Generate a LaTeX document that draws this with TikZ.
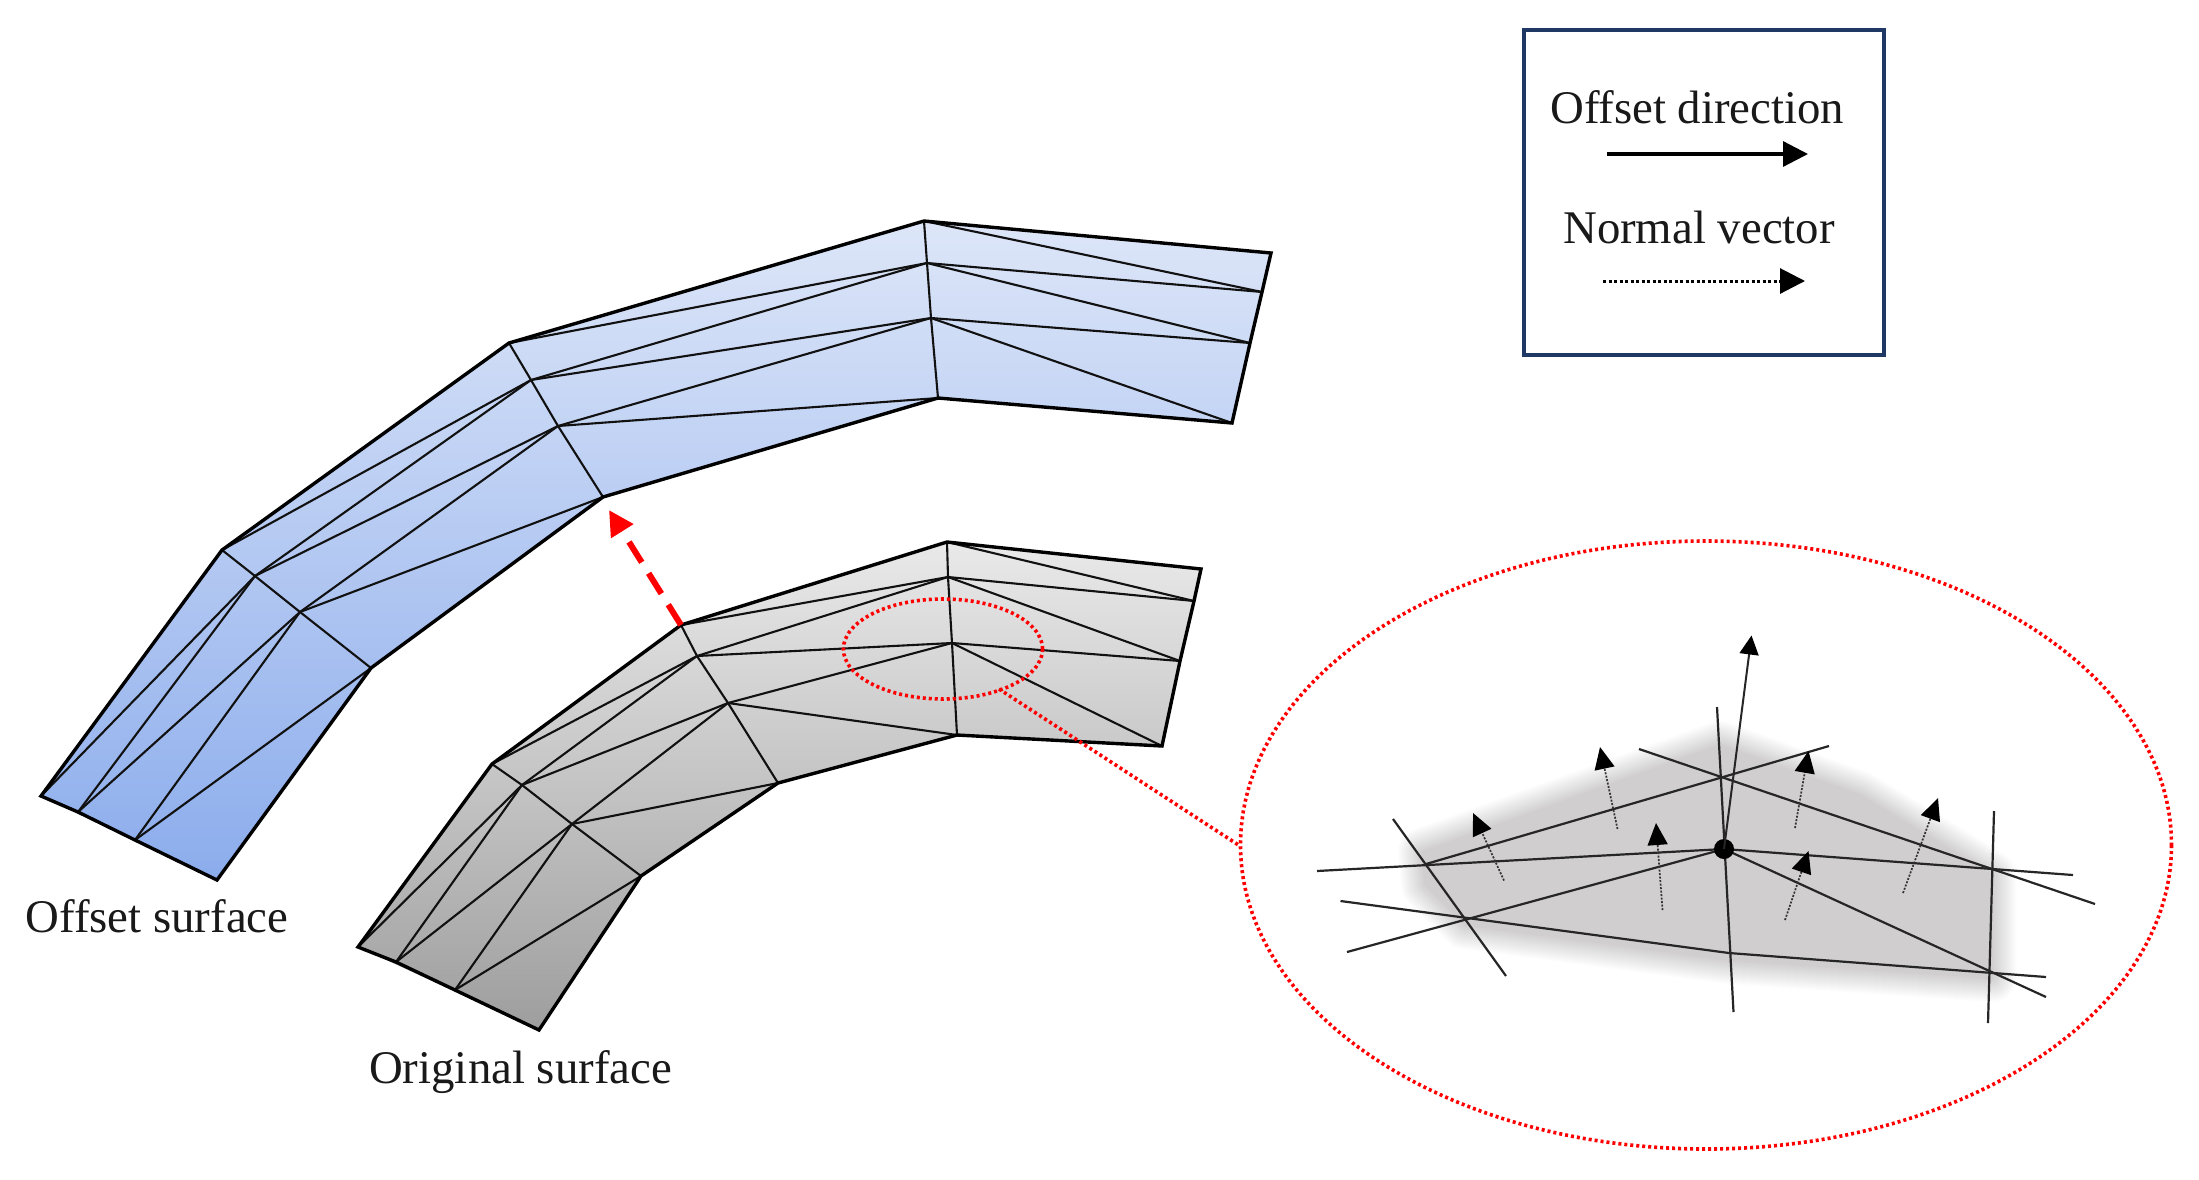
\documentclass[tikz,border=0pt]{standalone}
\usepackage{fontspec}
\setmainfont{Liberation Serif}
\usetikzlibrary{arrows.meta}
\definecolor{bluetop}{HTML}{DDE6F8}
\definecolor{bluebot}{HTML}{8BACEC}
\definecolor{graytop}{HTML}{E9E9E9}
\definecolor{graybot}{HTML}{9E9E9E}
\definecolor{navybox}{HTML}{1F3864}
\definecolor{shadegray}{HTML}{D0CECE}
\definecolor{meshblack}{HTML}{111111}
\tikzset{
  meshline/.style={draw=meshblack,line width=2.1pt},
  outline/.style={draw=black,line width=3.4pt,line join=miter},
  label/.style={anchor=base west,inner sep=0pt,font=\fontsize{46.8}{50}\selectfont,text=black!90},
  zoomline/.style={draw=black!85,line width=2.2pt},
  reddot/.style={draw=red,line width=3.6pt,dash pattern=on 3pt off 3pt},
  normalarrow/.style={draw=black!80,line width=1.7pt,dash pattern=on 2pt off 1.5pt,-{Triangle[length=22pt,width=20pt,fill=black,color=black]}},
}
\newcommand{\meshsurface}[1]{%
  \foreach \i/\j in {0/1,1/2,2/3,3/4}{
    \draw[meshline] (#1A\i)--(#1B\j);
    \draw[meshline] (#1B\i)--(#1B\j);
    \draw[meshline] (#1B\i)--(#1C\j);
    \draw[meshline] (#1C\i)--(#1C\j);
    \draw[meshline] (#1C\i)--(#1D\j);
  }
  \foreach \j in {1,2,3}{
    \draw[meshline] (#1A\j)--(#1B\j)--(#1C\j)--(#1D\j);
  }
  \draw[outline] (#1A0)--(#1A1)--(#1A2)--(#1A3)--(#1A4)--(#1B4)--(#1C4)--(#1D4)--(#1D3)--(#1D2)--(#1D1)--(#1D0)--(#1C0)--(#1B0)--cycle;
}
\begin{document}
\begin{tikzpicture}[x=1pt,y=-1pt]
\useasboundingbox[fill=white] (0,0) rectangle (2199,1179);
% offset surface
\coordinate (oA0) at (41,796);\coordinate (oA1) at (222,550);\coordinate (oA2) at (509,343);\coordinate (oA3) at (924,221);\coordinate (oA4) at (1271,253);
\coordinate (oB0) at (78,812);\coordinate (oB1) at (255,576);\coordinate (oB2) at (531,380);\coordinate (oB3) at (927,263);\coordinate (oB4) at (1262,292);
\coordinate (oC0) at (135,840);\coordinate (oC1) at (300,612);\coordinate (oC2) at (558,426);\coordinate (oC3) at (931,318);\coordinate (oC4) at (1250,343);
\coordinate (oD0) at (217,880);\coordinate (oD1) at (371,668);\coordinate (oD2) at (603,497);\coordinate (oD3) at (938,398);\coordinate (oD4) at (1232,423);
% original surface
\coordinate (gA0) at (358,947);\coordinate (gA1) at (492,764);\coordinate (gA2) at (681,625);\coordinate (gA3) at (947,542);\coordinate (gA4) at (1201,569);
\coordinate (gB0) at (396,962);\coordinate (gB1) at (522,785);\coordinate (gB2) at (697,656);\coordinate (gB3) at (948,577);\coordinate (gB4) at (1194,601);
\coordinate (gC0) at (455,990);\coordinate (gC1) at (572,824);\coordinate (gC2) at (728,703);\coordinate (gC3) at (952,643);\coordinate (gC4) at (1180,661);
\coordinate (gD0) at (539,1030);\coordinate (gD1) at (641,876);\coordinate (gD2) at (778,783);\coordinate (gD3) at (957,735);\coordinate (gD4) at (1162,746);
\shade[top color=bluetop,bottom color=bluebot] (oA0)--(oA1)--(oA2)--(oA3)--(oA4)--(oD4)--(oD3)--(oD2)--(oD1)--(oD0)--cycle;
\meshsurface{o}
\shade[top color=graytop,bottom color=graybot] (gA0)--(gA1)--(gA2)--(gA3)--(gA4)--(gD4)--(gD3)--(gD2)--(gD1)--(gD0)--cycle;
\meshsurface{g}
% offset arrow
\coordinate (offtip) at (609,510);
\draw[draw=red,line width=6pt,dash pattern=on 24pt off 13pt,-{Triangle[length=25pt,width=25pt,fill=red,color=red]}] (gA2)--(offtip);
% zoom ellipses
\draw[reddot] (943,649) ellipse [x radius=99.6,y radius=50];
\coordinate (zoomA) at (999,689);
\coordinate (zoomB) at (1240,846);
\draw[reddot] (zoomA)--(zoomB);
\draw[reddot] (1706,845) ellipse [x radius=465.5,y radius=304];
% blurred facet
\foreach \k in {0,...,24}{
  \pgfmathsetmacro\wd{48-48*\k/24}
  \pgfmathsetmacro\pc{100*(\k+1)/25}
  \draw[draw=shadegray!\pc!white,fill=shadegray!\pc!white,line width=\wd pt,line join=round]
   (1422,852)--(1720,745)--(1860,795)--(1992,875)--(1992,978)--(1729,960)--(1465,925)--(1425,885)--cycle;
}
% mesh lines in zoom
\coordinate (ctr) at (1724,849);
\draw[zoomline] (1393,819)--(1506,976);
\draw[zoomline] (1317,871)--(ctr)--(2073,875);
\draw[zoomline] (1426,864)--(1829,746);
\draw[zoomline] (1639,749)--(2095,904);
\draw[zoomline] (1717,707)--(1733.5,1012);
\draw[zoomline] (1347,952)--(ctr)--(2046,997);
\draw[zoomline] (1340.5,901)--(1729,953)--(2046,977);
\draw[zoomline] (1994,811)--(1988,1023);
\fill[black] (ctr) circle [radius=10];
\coordinate (maintip) at (1751.5,635.5);
\draw[draw=black!85,line width=2pt,-{Triangle[length=19pt,width=19pt,fill=black,color=black]}] (ctr)--(maintip);
\draw[normalarrow] (1504,880.5)--(1473,813);
\draw[normalarrow] (1617.5,829)--(1600,747);
\draw[normalarrow] (1662.5,910)--(1656,823);
\draw[normalarrow] (1795,828)--(1808.5,751);
\draw[normalarrow] (1785,920)--(1808.5,851);
\draw[normalarrow] (1903,893)--(1938,798);
% labels
\node[label] (offlabel) at (25.4,932.5) {Offset surface};
\node[label] (origlabel) at (369,1083.5) {Original surface};
% legend
\node[draw=navybox,line width=4pt,minimum width=360pt,minimum height=325pt,inner sep=0pt] (legendbox) at (1704,192.5) {};
\node[label] (legoff) at (1550,123) {Offset direction};
\node[label] (legnorm) at (1563,243) {Normal vector};
\coordinate (s1) at (1607,154);\coordinate (e1) at (1808,154);
\coordinate (s2) at (1603,281);\coordinate (e2) at (1805,281);
\draw[draw=black,line width=3.2pt,-{Triangle[length=25pt,width=25pt]}] (s1)--(e1);
\draw[draw=black,line width=3pt,dash pattern=on 3pt off 2.5pt,-{Triangle[length=25pt,width=25pt]}] (s2)--(e2);
\end{tikzpicture}
\end{document}
